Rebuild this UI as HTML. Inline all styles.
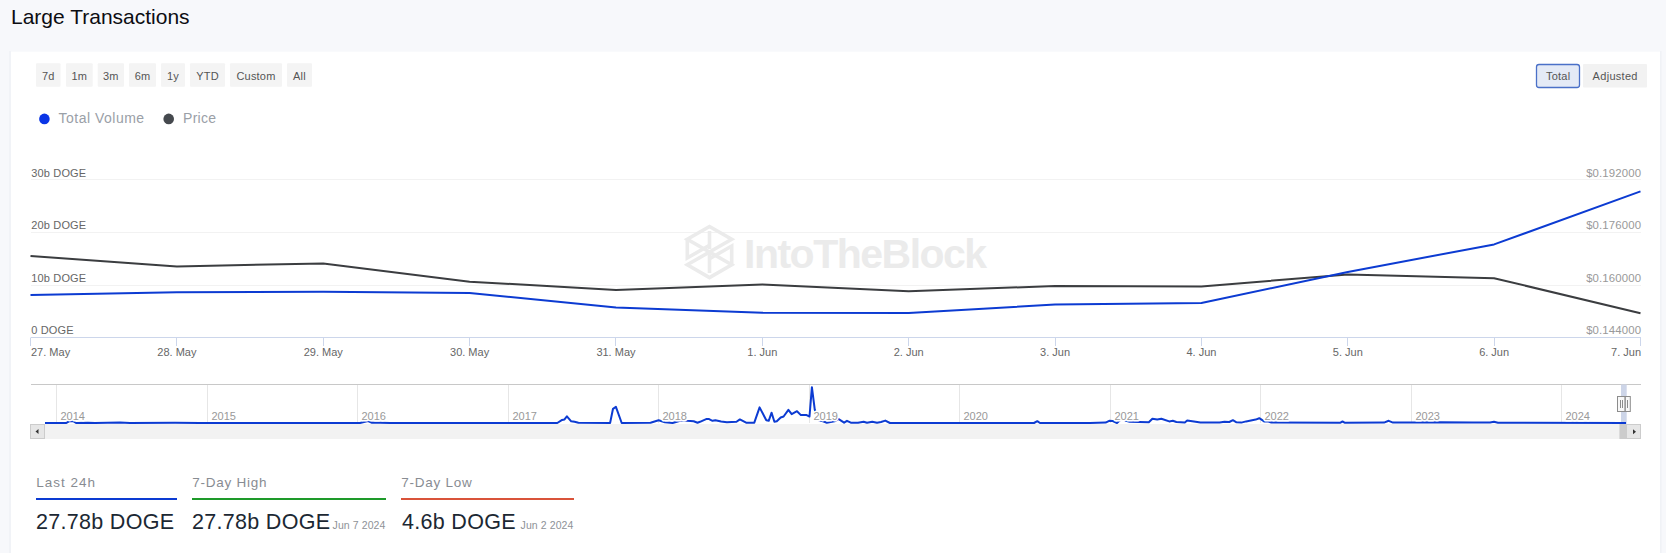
<!DOCTYPE html>
<html><head><meta charset="utf-8"><title>Large Transactions</title>
<style>html,body{margin:0;padding:0;background:#f7f8fb;width:1666px;height:553px;overflow:hidden;font-family:"Liberation Sans", sans-serif;}</style>
</head><body>
<svg width="1666" height="553" viewBox="0 0 1666 553" style="display:block;font-family:&quot;Liberation Sans&quot;, sans-serif"><rect x="0" y="0" width="1666" height="553" fill="#f7f8fb" rx="0"/>
<rect x="9" y="51" width="2" height="553" fill="#f1f3f7" rx="0"/>
<rect x="1660" y="51" width="1.6" height="553" fill="#f0f2f6" rx="0"/>
<rect x="11" y="51.7" width="1649" height="553" fill="#ffffff" rx="0"/>
<text x="11" y="23.6" font-size="21" fill="#0d0d12" text-anchor="start" font-weight="normal" >Large Transactions</text>
<rect x="36" y="63.2" width="24.5" height="23.5" fill="#f4f4f4" rx="1"/>
<text x="48.25" y="79.8" font-size="11" fill="#555555" text-anchor="middle" font-weight="normal" letter-spacing="0.2" >7d</text>
<rect x="66" y="63.2" width="26.700000000000003" height="23.5" fill="#f4f4f4" rx="1"/>
<text x="79.35" y="79.8" font-size="11" fill="#555555" text-anchor="middle" font-weight="normal" letter-spacing="0.2" >1m</text>
<rect x="97.7" y="63.2" width="26.299999999999997" height="23.5" fill="#f4f4f4" rx="1"/>
<text x="110.85" y="79.8" font-size="11" fill="#555555" text-anchor="middle" font-weight="normal" letter-spacing="0.2" >3m</text>
<rect x="129" y="63.2" width="27" height="23.5" fill="#f4f4f4" rx="1"/>
<text x="142.5" y="79.8" font-size="11" fill="#555555" text-anchor="middle" font-weight="normal" letter-spacing="0.2" >6m</text>
<rect x="161" y="63.2" width="24" height="23.5" fill="#f4f4f4" rx="1"/>
<text x="173.0" y="79.8" font-size="11" fill="#555555" text-anchor="middle" font-weight="normal" letter-spacing="0.2" >1y</text>
<rect x="190" y="63.2" width="35" height="23.5" fill="#f4f4f4" rx="1"/>
<text x="207.5" y="79.8" font-size="11" fill="#555555" text-anchor="middle" font-weight="normal" letter-spacing="0.2" >YTD</text>
<rect x="230" y="63.2" width="52" height="23.5" fill="#f4f4f4" rx="1"/>
<text x="256.0" y="79.8" font-size="11" fill="#555555" text-anchor="middle" font-weight="normal" letter-spacing="0.2" >Custom</text>
<rect x="287" y="63.2" width="25" height="23.5" fill="#f4f4f4" rx="1"/>
<text x="299.5" y="79.8" font-size="11" fill="#555555" text-anchor="middle" font-weight="normal" letter-spacing="0.2" >All</text>
<rect x="1536.5" y="64.5" width="43" height="23" fill="#e4eaf6" rx="2.5" stroke="#4a70c8" stroke-width="1.3"/>
<text x="1558.2" y="80" font-size="11" fill="#555555" text-anchor="middle" font-weight="normal" letter-spacing="0.25" >Total</text>
<rect x="1583" y="64" width="64" height="23.5" fill="#f2f2f2" rx="1"/>
<text x="1615.2" y="80" font-size="11" fill="#555555" text-anchor="middle" font-weight="normal" letter-spacing="0.3" >Adjusted</text>
<circle cx="44.4" cy="118.9" r="5.3" fill="#0a35e6"/>
<text x="58.5" y="123" font-size="14" fill="#9aa0a7" text-anchor="start" font-weight="normal" letter-spacing="0.5" >Total Volume</text>
<circle cx="168.7" cy="118.9" r="5.3" fill="#45494e"/>
<text x="183" y="123" font-size="14" fill="#9aa0a7" text-anchor="start" font-weight="normal" letter-spacing="0.3" >Price</text>
<line x1="31" y1="179.5" x2="1641" y2="179.5" stroke="#f2f2f2" stroke-width="1"/>
<line x1="31" y1="232.5" x2="1641" y2="232.5" stroke="#f2f2f2" stroke-width="1"/>
<line x1="31" y1="285.5" x2="1641" y2="285.5" stroke="#f2f2f2" stroke-width="1"/>
<line x1="31" y1="337.5" x2="1641" y2="337.5" stroke="#ccd6eb" stroke-width="1"/>
<line x1="30.5" y1="337.5" x2="30.5" y2="346" stroke="#ccd6eb" stroke-width="1"/>
<text x="31" y="355.8" font-size="11" fill="#666666" text-anchor="start" font-weight="normal" >27. May</text>
<line x1="176.5" y1="337.5" x2="176.5" y2="346" stroke="#ccd6eb" stroke-width="1"/>
<text x="176.86363636363637" y="355.8" font-size="11" fill="#666666" text-anchor="middle" font-weight="normal" >28. May</text>
<line x1="323.5" y1="337.5" x2="323.5" y2="346" stroke="#ccd6eb" stroke-width="1"/>
<text x="323.22727272727275" y="355.8" font-size="11" fill="#666666" text-anchor="middle" font-weight="normal" >29. May</text>
<line x1="469.5" y1="337.5" x2="469.5" y2="346" stroke="#ccd6eb" stroke-width="1"/>
<text x="469.59090909090907" y="355.8" font-size="11" fill="#666666" text-anchor="middle" font-weight="normal" >30. May</text>
<line x1="615.5" y1="337.5" x2="615.5" y2="346" stroke="#ccd6eb" stroke-width="1"/>
<text x="615.9545454545455" y="355.8" font-size="11" fill="#666666" text-anchor="middle" font-weight="normal" >31. May</text>
<line x1="762.5" y1="337.5" x2="762.5" y2="346" stroke="#ccd6eb" stroke-width="1"/>
<text x="762.3181818181819" y="355.8" font-size="11" fill="#666666" text-anchor="middle" font-weight="normal" >1. Jun</text>
<line x1="908.5" y1="337.5" x2="908.5" y2="346" stroke="#ccd6eb" stroke-width="1"/>
<text x="908.6818181818181" y="355.8" font-size="11" fill="#666666" text-anchor="middle" font-weight="normal" >2. Jun</text>
<line x1="1055.5" y1="337.5" x2="1055.5" y2="346" stroke="#ccd6eb" stroke-width="1"/>
<text x="1055.0454545454545" y="355.8" font-size="11" fill="#666666" text-anchor="middle" font-weight="normal" >3. Jun</text>
<line x1="1201.5" y1="337.5" x2="1201.5" y2="346" stroke="#ccd6eb" stroke-width="1"/>
<text x="1201.409090909091" y="355.8" font-size="11" fill="#666666" text-anchor="middle" font-weight="normal" >4. Jun</text>
<line x1="1347.5" y1="337.5" x2="1347.5" y2="346" stroke="#ccd6eb" stroke-width="1"/>
<text x="1347.7727272727273" y="355.8" font-size="11" fill="#666666" text-anchor="middle" font-weight="normal" >5. Jun</text>
<line x1="1494.5" y1="337.5" x2="1494.5" y2="346" stroke="#ccd6eb" stroke-width="1"/>
<text x="1494.1363636363637" y="355.8" font-size="11" fill="#666666" text-anchor="middle" font-weight="normal" >6. Jun</text>
<line x1="1640.5" y1="337.5" x2="1640.5" y2="346" stroke="#ccd6eb" stroke-width="1"/>
<text x="1641" y="355.8" font-size="11" fill="#666666" text-anchor="end" font-weight="normal" >7. Jun</text>
<text x="31.3" y="177" font-size="11" fill="#666666" text-anchor="start" font-weight="normal" letter-spacing="0.15" >30b DOGE</text>
<text x="31.3" y="229" font-size="11" fill="#666666" text-anchor="start" font-weight="normal" letter-spacing="0.15" >20b DOGE</text>
<text x="31.3" y="281.8" font-size="11" fill="#666666" text-anchor="start" font-weight="normal" letter-spacing="0.15" >10b DOGE</text>
<text x="31.3" y="333.9" font-size="11" fill="#666666" text-anchor="start" font-weight="normal" letter-spacing="0.15" >0 DOGE</text>
<text x="1641.1" y="177" font-size="11.4" fill="#999999" text-anchor="end" font-weight="normal" letter-spacing="0.12" >$0.192000</text>
<text x="1641.1" y="229" font-size="11.4" fill="#999999" text-anchor="end" font-weight="normal" letter-spacing="0.12" >$0.176000</text>
<text x="1641.1" y="281.8" font-size="11.4" fill="#999999" text-anchor="end" font-weight="normal" letter-spacing="0.12" >$0.160000</text>
<text x="1641.1" y="333.9" font-size="11.4" fill="#999999" text-anchor="end" font-weight="normal" letter-spacing="0.12" >$0.144000</text>
<g fill="none" stroke="#ebebeb" stroke-width="3.6" stroke-linejoin="miter" stroke-linecap="butt"><path d="M709.5,226.5 L687.3,239.2 L709.5,252 L731.7,239.2 Z"/><path d="M709.5,231 L709.5,249"/><path d="M687.3,239.2 L687.3,258 L709.5,245.2"/><path d="M709.5,252 L687.3,264.8 L709.5,277.6 L731.7,264.8 Z"/><path d="M709.5,255 L709.5,273"/><path d="M731.7,264.8 L731.7,246 L709.5,258.8"/></g>
<text x="744" y="267.6" font-size="41" fill="#ebebeb" text-anchor="start" font-weight="bold" letter-spacing="-1.5" >IntoTheBlock</text>
<polyline points="30.5,255.9 176.9,266.5 323.2,263.4 469.6,281.7 616.0,289.9 762.3,284.4 908.7,291.3 1055.0,286.0 1201.4,286.4 1347.8,274.6 1494.1,278.2 1640.5,313.2" fill="none" stroke="#3b3d40" stroke-width="2" stroke-linejoin="round"/>
<polyline points="30.5,294.9 176.9,292.2 323.2,291.7 469.6,293.0 616.0,307.4 762.3,312.8 908.7,313.0 1055.0,304.6 1201.4,303.0 1347.8,272.0 1494.1,244.4 1640.5,191.4" fill="none" stroke="#0c3bd2" stroke-width="2" stroke-linejoin="round"/>
<line x1="31" y1="384.5" x2="1641" y2="384.5" stroke="#c8c8c8" stroke-width="1"/>
<line x1="56.5" y1="385" x2="56.5" y2="423" stroke="#e6e6e6" stroke-width="1"/>
<line x1="207.5" y1="385" x2="207.5" y2="423" stroke="#e6e6e6" stroke-width="1"/>
<line x1="357.5" y1="385" x2="357.5" y2="423" stroke="#e6e6e6" stroke-width="1"/>
<line x1="508.5" y1="385" x2="508.5" y2="423" stroke="#e6e6e6" stroke-width="1"/>
<line x1="658.5" y1="385" x2="658.5" y2="423" stroke="#e6e6e6" stroke-width="1"/>
<line x1="809.5" y1="385" x2="809.5" y2="423" stroke="#e6e6e6" stroke-width="1"/>
<line x1="959.5" y1="385" x2="959.5" y2="423" stroke="#e6e6e6" stroke-width="1"/>
<line x1="1110.5" y1="385" x2="1110.5" y2="423" stroke="#e6e6e6" stroke-width="1"/>
<line x1="1260.5" y1="385" x2="1260.5" y2="423" stroke="#e6e6e6" stroke-width="1"/>
<line x1="1411.5" y1="385" x2="1411.5" y2="423" stroke="#e6e6e6" stroke-width="1"/>
<line x1="1561.5" y1="385" x2="1561.5" y2="423" stroke="#e6e6e6" stroke-width="1"/>
<rect x="1621" y="384.5" width="5.7" height="39.5" fill="#cdd5e8" rx="0"/>
<polyline points="45,423 66,423 69.6,421.2 73.2,421.2 76,423 88,422.8 95,423 120,422.6 130,423 175,422.7 200,423 360,423 365,421.8 368,421 372,422.8 380,422.8 390,423 540,422.9 557.3,423 562.1,419.9 564.5,419.4 566.9,416.3 571.2,421.3 574.6,421.8 578.4,422.8 610.1,423 613,408.8 615.9,406.9 621.7,423 650.5,422.7 658.6,420.3 664.9,422.3 672.6,423 680.2,420.8 683.1,420.3 687,420.8 693.7,421.3 697.5,422.7 700,421.8 706.7,418.9 708.6,418.9 712.5,420.8 715.4,420.3 721.1,421.5 726.9,422.3 736.5,421.8 739.9,419.4 746.1,422.7 754.3,422.7 759.6,407.4 766.3,420.3 768.7,420.8 771.6,412.7 774.4,421.8 776.8,421.3 780.7,417.5 783.6,416.5 788.4,409.8 791.7,414.1 797,411.2 800.9,415.1 806.6,415.1 809.5,416.5 811.9,387.2 814.8,409.8 818,420 823,421.3 826.8,422.7 834.5,421.3 838.3,418.9 844.1,422.7 847,420.8 850.8,422.7 858,422.8 863.6,421.7 867,422.8 872.3,421.7 877,422.8 881,422 885.3,420.6 890,423 1034,423 1037.3,421.2 1040,423 1090,423 1105.6,422.6 1109.2,420.8 1112.8,421 1117,423 1119.4,420.8 1121.8,418.3 1126,420.8 1129.6,421.8 1148.8,422.3 1152.4,418.7 1157.2,419.4 1161.4,418.7 1169.2,421.4 1172.8,420.8 1176.4,422 1184.8,422.6 1187.2,420.6 1195.6,421.8 1200.4,422.6 1219.6,422.6 1224.5,421.8 1229.3,422 1232.9,420.2 1236.5,422.3 1241.3,422.6 1246.1,421.4 1255.7,419.6 1259.3,418.2 1264.1,421.4 1267.7,421.4 1271.3,422.6 1340,422.8 1342.5,421.5 1345,422.8 1384,422.6 1388.7,420.8 1393,422.6 1416,422.6 1440,422.2 1473,422.6 1490,422.6 1494,421.8 1498,422.7 1626,423" fill="none" stroke="#0c3bd2" stroke-width="2" stroke-linejoin="round"/>
<text x="60.5" y="420" font-size="11" fill="#999999" text-anchor="start" font-weight="normal" stroke="#ffffff" stroke-width="3" stroke-linejoin="round" paint-order="stroke">2014</text>
<text x="211.5" y="420" font-size="11" fill="#999999" text-anchor="start" font-weight="normal" stroke="#ffffff" stroke-width="3" stroke-linejoin="round" paint-order="stroke">2015</text>
<text x="361.5" y="420" font-size="11" fill="#999999" text-anchor="start" font-weight="normal" stroke="#ffffff" stroke-width="3" stroke-linejoin="round" paint-order="stroke">2016</text>
<text x="512.5" y="420" font-size="11" fill="#999999" text-anchor="start" font-weight="normal" stroke="#ffffff" stroke-width="3" stroke-linejoin="round" paint-order="stroke">2017</text>
<text x="662.5" y="420" font-size="11" fill="#999999" text-anchor="start" font-weight="normal" stroke="#ffffff" stroke-width="3" stroke-linejoin="round" paint-order="stroke">2018</text>
<text x="813.5" y="420" font-size="11" fill="#999999" text-anchor="start" font-weight="normal" stroke="#ffffff" stroke-width="3" stroke-linejoin="round" paint-order="stroke">2019</text>
<text x="963.5" y="420" font-size="11" fill="#999999" text-anchor="start" font-weight="normal" stroke="#ffffff" stroke-width="3" stroke-linejoin="round" paint-order="stroke">2020</text>
<text x="1114.5" y="420" font-size="11" fill="#999999" text-anchor="start" font-weight="normal" stroke="#ffffff" stroke-width="3" stroke-linejoin="round" paint-order="stroke">2021</text>
<text x="1264.5" y="420" font-size="11" fill="#999999" text-anchor="start" font-weight="normal" stroke="#ffffff" stroke-width="3" stroke-linejoin="round" paint-order="stroke">2022</text>
<text x="1415.5" y="420" font-size="11" fill="#999999" text-anchor="start" font-weight="normal" stroke="#ffffff" stroke-width="3" stroke-linejoin="round" paint-order="stroke">2023</text>
<text x="1565.5" y="420" font-size="11" fill="#999999" text-anchor="start" font-weight="normal" stroke="#ffffff" stroke-width="3" stroke-linejoin="round" paint-order="stroke">2024</text>
<rect x="30.5" y="424" width="1610.5" height="15" fill="#f2f2f2" rx="0"/>
<rect x="30.5" y="424.5" width="14" height="14" fill="#e6e6e6" rx="0" stroke="#cccccc" stroke-width="1"/>
<path d="M35.5,431.5 L38.5,429 L38.5,434 Z" fill="#333"/>
<rect x="1619.4" y="424" width="7.3" height="15" fill="#cccccc" rx="0"/>
<rect x="1626.5" y="424.5" width="14" height="14" fill="#e6e6e6" rx="0" stroke="#cccccc" stroke-width="1"/>
<path d="M1636,431.8 L1633,429.3 L1633,434.3 Z" fill="#333"/>
<rect x="1617.5" y="396.5" width="7.5" height="15" fill="#f8f8f8" rx="0" stroke="#8c8c8c" stroke-width="1"/>
<line x1="1620.5" y1="400" x2="1620.5" y2="408" stroke="#8c8c8c" stroke-width="1"/>
<line x1="1622.5" y1="400" x2="1622.5" y2="408" stroke="#8c8c8c" stroke-width="1"/>
<rect x="1625.3" y="396.5" width="5" height="15" fill="#f8f8f8" rx="0" stroke="#8c8c8c" stroke-width="1"/>
<line x1="1627.5" y1="400" x2="1627.5" y2="408" stroke="#8c8c8c" stroke-width="1"/>
<text x="36.3" y="486.8" font-size="13.5" fill="#888c92" text-anchor="start" font-weight="normal" letter-spacing="1.0" >Last 24h</text>
<rect x="36" y="498" width="141" height="2" fill="#0c3bd2" rx="0"/>
<text x="36" y="528.6" font-size="21.5" fill="#1c2833" text-anchor="start" font-weight="normal" letter-spacing="0.3" >27.78b DOGE</text>
<text x="192.3" y="486.8" font-size="13.5" fill="#888c92" text-anchor="start" font-weight="normal" letter-spacing="0.75" >7-Day High</text>
<rect x="192" y="498" width="194" height="2" fill="#1e9a2a" rx="0"/>
<text x="192" y="528.6" font-size="21.5" fill="#1c2833" text-anchor="start" font-weight="normal" letter-spacing="0.3" >27.78b DOGE</text>
<text x="385.5" y="528.8" font-size="10.5" fill="#8e9297" text-anchor="end" font-weight="normal" letter-spacing="0.1" >Jun 7 2024</text>
<text x="401.3" y="486.8" font-size="13.5" fill="#888c92" text-anchor="start" font-weight="normal" letter-spacing="0.75" >7-Day Low</text>
<rect x="401" y="498" width="173" height="2" fill="#d9533a" rx="0"/>
<text x="402" y="528.6" font-size="21.5" fill="#1c2833" text-anchor="start" font-weight="normal" letter-spacing="0.3" >4.6b DOGE</text>
<text x="573.5" y="528.8" font-size="10.5" fill="#8e9297" text-anchor="end" font-weight="normal" letter-spacing="0.1" >Jun 2 2024</text></svg>
</body></html>
